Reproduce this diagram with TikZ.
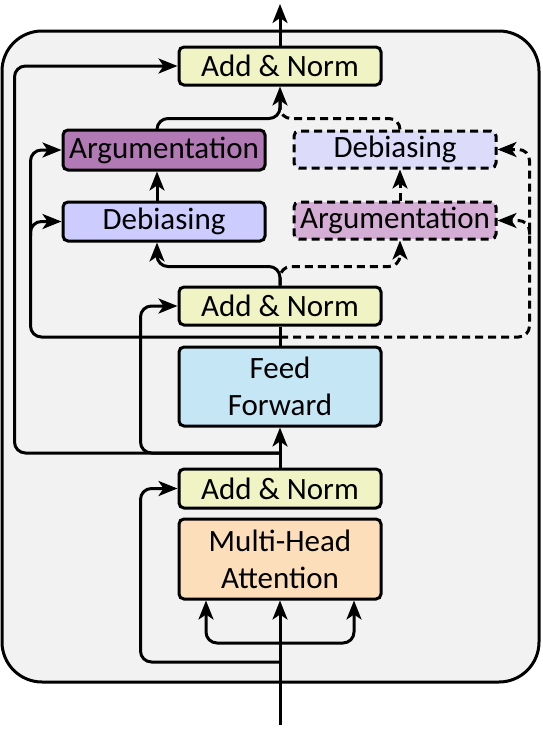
\documentclass[tikz,border=0pt]{standalone}
\usepackage{fontspec}
\setmainfont{Carlito}
\usetikzlibrary{arrows.meta,calc}
\definecolor{bgc}{RGB}{242,242,242}
\definecolor{anc}{RGB}{240,244,196}
\definecolor{argc}{RGB}{178,122,180}
\definecolor{debc}{RGB}{204,204,255}
\definecolor{ddebc}{RGB}{220,220,250}
\definecolor{dargc}{RGB}{213,174,213}
\definecolor{ffc}{RGB}{196,230,245}
\definecolor{mhac}{RGB}{253,222,186}
\tikzset{
  blk/.style={draw=black, line width=3pt, rounded corners=5pt, minimum width=202pt, inner sep=0pt, align=center, font=\fontsize{31}{37}\selectfont},
  dblk/.style={blk, dashed, dash pattern=on 8pt off 5pt},
  conn/.style={line width=3pt, rounded corners=11pt},
  arr/.style={conn, -{Stealth[length=19pt,width=15pt,inset=5pt]}},
  dconn/.style={conn, dash pattern=on 8pt off 5pt},
  darr/.style={dconn, -{Stealth[length=19pt,width=15pt,inset=5pt]}},
}
\begin{document}
\begin{tikzpicture}[x=1pt,y=-1pt]
\useasboundingbox (0,0) rectangle (543,731);
\draw[line width=3pt, fill=bgc, rounded corners=40pt] (2,31) rectangle (539,682);

\node[blk, fill=anc, minimum height=38pt] (an3) at (280,66) {Add \& Norm};
\node[blk, fill=argc, minimum height=40pt] (arg) at (164,150) {Argumentation};
\node[blk, fill=debc, minimum height=39pt] (deb) at (164,221.5) {Debiasing};
\node[dblk, fill=ddebc, minimum height=37pt] (ddeb) at (395,149.5) {Debiasing};
\node[dblk, fill=dargc, minimum height=37pt] (darg) at (395,220.5) {Argumentation};
\node[blk, fill=anc, minimum height=38pt] (an2) at (280,306) {Add \& Norm};
\node[blk, fill=ffc, minimum height=79pt] (ff) at (280,386.5) {Feed\\Forward};
\node[blk, fill=anc, minimum height=39pt] (an1) at (280,488.5) {Add \& Norm};
\node[blk, fill=mhac, minimum height=80pt] (mha) at (280,559) {Multi-Head\\Attention};

\coordinate (inp) at (280,725);
\coordinate (out) at (280,4);
\coordinate (b0) at (280,643);
\coordinate (r1) at (280,662);
\coordinate (j2) at (280,453);
\coordinate (j3) at (280,337);

% input and attention branches
\draw[arr] (inp) -- (mha.south);
\draw[arr] (b0) -| ([xshift=-74pt]mha.south);
\draw[arr] (b0) -| ([xshift=74pt]mha.south);
% residual 1
\draw[arr] (r1) -| ([xshift=-37pt]an1.west) -- (an1.west);
\draw[arr, rounded corners=0pt] (an1.north) -- (ff.south);
% residuals from feed-forward input
\draw[arr] (j2) -| ([xshift=-37pt]an2.west) -- (an2.west);
\draw[arr] (j2) -| ([xshift=-163pt]an3.west) -- (an3.west);
\draw[conn] (ff.north) -- (an2.south);
% left solid feeds
\draw[arr] (j3) -| ([xshift=-31pt]arg.west) -- (arg.west);
\draw[arr] ([xshift=-31pt,yshift=-14pt]deb.west) -- ([xshift=-31pt]deb.west) -- (deb.west);
% right dashed feeds
\draw[darr] (j3) -| ([xshift=32pt]ddeb.east) -- (ddeb.east);
\draw[darr] ([xshift=32pt,yshift=-14pt]darg.east) -- ([xshift=32pt]darg.east) -- (darg.east);
% from middle Add & Norm
\draw[darr] (an2.north) -- ([yshift=19pt]an2.north) -| ([xshift=5pt]darg.south);
\draw[arr] (an2.north) -- ([yshift=19pt]an2.north) -| ([xshift=-7pt]deb.south);
% between stacked boxes
\draw[arr, rounded corners=0pt] ([xshift=-7pt]deb.north) -- ([xshift=-7pt]arg.south);
\draw[darr, rounded corners=0pt] ([xshift=5pt]darg.north) -- ([xshift=5pt]ddeb.south);
% to top Add & Norm
\draw[dconn] ([xshift=5pt]ddeb.north) |- ([yshift=-32pt]an3.south) -- ([yshift=-14pt]an3.south);
\draw[arr] ([xshift=-7pt]arg.north) |- ([yshift=-32pt]an3.south) -- (an3.south);
\draw[arr, rounded corners=0pt] (an3.north) -- (out);
\end{tikzpicture}
\end{document}
